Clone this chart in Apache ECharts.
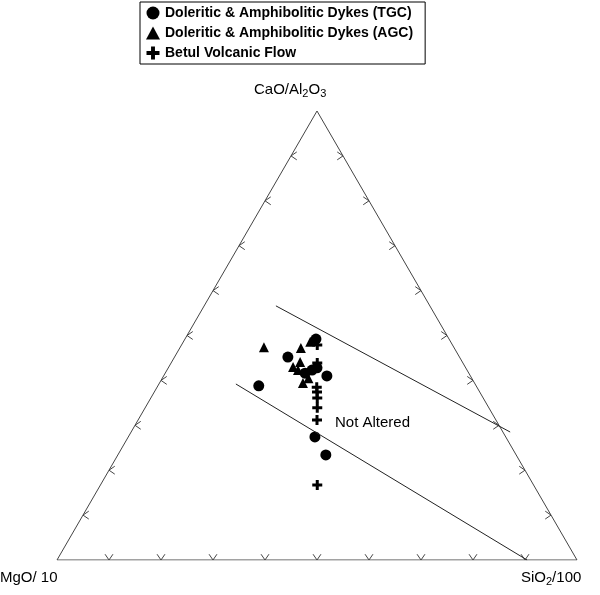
<!DOCTYPE html>
<html><head><meta charset="utf-8">
<script src="https://cdn.jsdelivr.net/npm/echarts@6/dist/echarts.min.js"></script>
<style>html,body{margin:0;background:#fff}#chart{width:600px;height:595px}</style>
</head><body><div id="chart"></div>
<script>
// ternary values: [CaO/Al2O3, MgO/10, SiO2/100]
const tgc = [[0.492,0.256,0.252],[0.452,0.330,0.218],[0.410,0.276,0.314],[0.388,0.418,0.194],
  [0.274,0.367,0.359],[0.234,0.366,0.400],[0.423,0.298,0.279],[0.428,0.286,0.286],[0.416,0.315,0.269]]
const agc = [[0.474,0.365,0.161],[0.472,0.295,0.233],[0.486,0.270,0.244],[0.430,0.331,0.239],
  [0.441,0.312,0.247],[0.394,0.330,0.276],[0.423,0.325,0.252],[0.405,0.314,0.281]]
const betul = [[0.479,0.260,0.261],[0.439,0.280,0.281],[0.385,0.308,0.307],[0.374,0.313,0.313],
  [0.361,0.319,0.320],[0.339,0.330,0.331],[0.312,0.344,0.344],[0.167,0.416,0.417]]
const upperLine = [[0.566,0.296,0.138],[0.285,-0.014,0.729]]
const lowerLine = [[0.392,0.460,0.148],[0.0,0.096,0.904]]
const tickSteps = [0.1,0.2,0.3,0.4,0.5,0.6,0.7,0.8,0.9]
const legendNames = ['Doleritic & Amphibolitic Dykes (TGC)','Doleritic & Amphibolitic Dykes (AGC)','Betul Volcanic Flow']

const H = Math.sqrt(3) / 2
const toXY = t => [t[2] + t[0] / 2, t[0] * H]
const crossPath = 'path://M3.5,0H6.5V3.5H10V6.5H6.5V10H3.5V6.5H0V3.5H3.5Z'

// ticks: [x, y, dirAngle]
const ticks = []
tickSteps.forEach(f => {
  ticks.push([f, 0, -Math.PI / 2])            // bottom, arms up
  ticks.push([f / 2, f * H, 0])               // left, arms right
  ticks.push([1 - f / 2, f * H, Math.PI])     // right, arms left
})

const chart = echarts.init(document.getElementById('chart'))
const font = 'Arial, "Liberation Sans", sans-serif'
const mark = { color: '#000', opacity: 1 }
chart.setOption({
  animation: false,
  grid: { left: 57, right: 23, top: 111, bottom: 35 },
  xAxis: { type: 'value', min: 0, max: 1, show: false },
  yAxis: { type: 'value', min: 0, max: H, show: false },
  legend: {
    data: legendNames, orient: 'vertical', left: 140, top: 2, itemGap: 6,
    padding: [4, 12, 4, 6], borderColor: '#000', borderWidth: 1,
    itemWidth: 14, itemHeight: 13,
    textStyle: { fontFamily: font, fontSize: 14, fontWeight: 'bold', color: '#000' }
  },
  graphic: [
    { type: 'text', left: 254, top: 82, style: { rich: { n: { fontSize: 15, fontFamily: font }, s: { fontSize: 11, fontFamily: font, padding: [8, 0, 0, 0] } }, text: '{n|CaO/Al}{s|2}{n|O}{s|3}' } },
    { type: 'text', left: 0, top: 570, style: { text: 'MgO/ 10', fontSize: 15, fontFamily: font } },
    { type: 'text', left: 521, top: 570, style: { rich: { n: { fontSize: 15, fontFamily: font }, s: { fontSize: 11, fontFamily: font, padding: [8, 0, 0, 0] } }, text: '{n|SiO}{s|2}{n|/100}' } },
    { type: 'text', left: 335, top: 415, style: { text: 'Not Altered', fontSize: 15, fontFamily: font } }
  ],
  series: [
    { type: 'line', data: [[0, 0], [1, 0], [0.5, H], [0, 0]], symbol: 'none', silent: true,
      lineStyle: { color: '#444', width: 1 } },
    { type: 'line', data: upperLine.map(toXY), symbol: 'none', lineStyle: { color: '#222', width: 1 } },
    { type: 'line', data: lowerLine.map(toXY), symbol: 'none', lineStyle: { color: '#222', width: 1 } },
    { type: 'custom', data: ticks, silent: true,
      renderItem: (params, api) => {
        const p = api.coord([api.value(0), api.value(1)])
        const a = api.value(2), L = 7, s = 0.6
        return { type: 'polyline', shape: { points: [
          [p[0] + L * Math.cos(a - s), p[1] + L * Math.sin(a - s)], p,
          [p[0] + L * Math.cos(a + s), p[1] + L * Math.sin(a + s)]] },
          style: { stroke: '#444', lineWidth: 1, fill: null } }
      } },
    { name: legendNames[0], type: 'scatter', data: tgc.map(toXY), symbol: 'circle', symbolSize: 11, itemStyle: mark },
    { name: legendNames[1], type: 'scatter', data: agc.map(toXY), symbol: 'triangle', symbolSize: 10, itemStyle: mark },
    { name: legendNames[2], type: 'scatter', data: betul.map(toXY), symbol: crossPath, symbolSize: 10, itemStyle: mark }
  ]
})
</script></body></html>
